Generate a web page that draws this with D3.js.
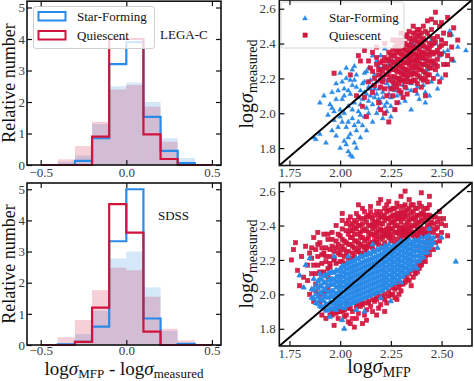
<!DOCTYPE html>
<html><head><meta charset="utf-8">
<script src="https://cdn.jsdelivr.net/npm/d3@7"></script>
<style>body{margin:0;background:#fff}svg{display:block}</style>
</head><body>
<script>
// ---------------- DATA ----------------
const binEdges = [-0.5,-0.4,-0.3,-0.2,-0.1,0,0.1,0.2,0.3,0.4,0.5];
const histXTicks = [-0.5, 0, 0.5];
const histYTicks = [0,1,2,3,4,5];
const legacSFStep = [0, 0, 0.13, 0.85, 3.2, 3.9, 1.53, 0.45, 0.06, 0];
const legacQStep  = [0, 0, 0, 0.9, 4.0, 4.0, 0.97, 0.19, 0, 0];
const legacSFFill = [0, 0.1, 0.3, 1.3, 2.5, 2.62, 2.0, 0.85, 0.22, 0.02];
const legacQFill  = [0.02, 0.18, 0.6, 1.37, 2.4, 2.54, 1.85, 0.74, 0.1, 0];
const sdssSFStep  = [0, 0.02, 0.1, 0.59, 3.33, 5.0, 0.85, 0, 0.04, 0];
const sdssQStep   = [0, 0, 0.1, 1.2, 4.52, 3.61, 0.43, 0, 0, 0];
const sdssSFFill  = [0, 0.05, 0.35, 1.1, 2.78, 3.0, 1.85, 0.45, 0.06, 0];
const sdssQFill   = [0.02, 0.25, 0.8, 1.76, 2.48, 2.4, 1.55, 0.52, 0.15, 0];

const sigXTicks = [1.75, 2.00, 2.25, 2.50];
const sigYTicks = [1.8, 2.0, 2.2, 2.4, 2.6];
const oneToOne = [1.7, 2.65];

const legacSF = [[1.88,1.85],[1.87,1.86],[1.90,1.88],[1.93,1.83],[1.96,1.90],[1.98,1.87],[2.00,1.80],[2.02,1.84],[2.03,1.82],[2.04,1.78],[2.05,1.76],[2.06,1.75],[2.03,1.92],[2.01,1.95],[2.05,1.88],[2.07,1.83],[2.08,1.90],[2.10,1.86],[2.09,1.95],[2.06,1.97],[2.00,1.98],[1.97,1.96],[2.11,1.93],[2.12,1.98],[2.13,1.90],[2.08,1.80],[1.99,1.92],[2.04,1.86],
[1.90,2.06],[1.92,2.10],[1.95,2.05],[1.96,2.12],[1.98,2.17],[2.00,2.02],[2.01,2.08],[2.02,2.14],[2.03,2.20],[2.04,2.04],[2.05,2.11],[2.06,2.16],[2.07,2.06],[2.08,2.22],[2.09,2.01],[2.10,2.13],[2.11,2.08],[2.12,2.18],[2.13,2.03],[2.14,2.26],[2.06,2.25],[2.00,2.23],[2.03,2.26],[1.97,2.01],[1.94,1.99],[2.15,2.10],[2.16,2.05],[2.15,2.19],[2.07,2.27],[2.05,2.19],[2.02,2.10],[1.99,2.13],
[2.17,2.14],[2.18,2.00],[2.19,2.08],[2.20,2.22],[2.21,2.12],[2.22,2.04],[2.23,2.17],[2.24,2.28],[2.25,2.09],[2.26,2.20],[2.27,2.13],[2.28,2.25],[2.29,2.06],[2.18,2.30],[2.20,2.33],[2.22,2.37],[2.16,2.33],[2.19,2.27],[2.21,1.97],[2.23,2.01],[2.25,1.98],[2.27,2.02],[2.24,2.15],[2.17,2.22],[2.14,2.15],[2.13,2.11],[2.26,2.30],[2.29,2.19],[2.30,2.11],[2.31,2.24],[2.31,2.16],[2.12,2.23],[2.18,2.18],[2.21,2.26],
[2.32,2.07],[2.33,2.20],[2.34,2.29],[2.35,2.13],[2.36,2.24],[2.37,2.34],[2.38,2.15],[2.38,2.27],[2.39,2.08],[2.40,2.20],[2.41,2.31],[2.42,2.12],[2.43,2.25],[2.44,2.35],[2.45,2.18],[2.46,2.28],[2.47,2.40],[2.48,2.22],[2.49,2.33],[2.50,2.42],[2.52,2.28],[2.53,2.36],[2.55,2.45],[2.56,2.30],[2.58,2.38],[2.62,2.36],[2.54,2.47],[2.36,2.40],[2.40,2.38],[2.44,2.10],[2.42,2.06],[2.35,2.02],[2.48,2.14],[2.50,2.20],[2.45,2.42],[2.51,2.35],[2.39,2.44],
[2.02,2.00],[2.04,2.13],[2.06,2.02],[2.08,2.15],[2.10,2.05],[2.12,2.12],[2.14,2.07],[2.16,2.16],[2.18,2.11],[2.20,2.06],[2.22,2.19],[2.24,2.11],[2.26,2.16],[2.28,2.10],[2.30,2.20],[2.07,2.19],[2.09,2.09],[2.11,2.17],[2.13,2.24],[2.15,2.14],[2.17,2.09],[2.19,2.14],[2.21,2.09],[2.23,2.06],[2.25,2.04],[2.01,2.18],[1.98,2.08],[1.96,2.03],[2.04,1.95],[2.07,1.93],[2.10,1.99],[2.14,2.00],[2.16,1.95],[2.19,2.03],[2.35,2.17],[2.38,2.11],[2.41,2.16],[2.33,2.14]];

const legacQ = [[1.97,2.23],[2.05,2.22],[2.09,2.33],[2.10,2.30],[2.12,2.09],[2.13,1.98],[2.14,2.18],[2.08,2.10],[2.11,2.04],[2.15,2.26],[2.14,2.30],[2.12,2.36],
[2.16,2.12],[2.17,2.20],[2.18,2.28],[2.19,2.06],[2.20,2.15],[2.21,2.24],[2.22,2.32],[2.23,2.10],[2.24,2.19],[2.25,2.27],[2.16,2.35],[2.18,2.38],[2.20,2.02],[2.22,2.00],[2.24,1.95],[2.21,2.18],[2.19,2.22],[2.17,2.16],[2.23,2.26],[2.25,2.14],[2.22,2.40],[2.24,2.35],[2.18,2.32],[2.20,2.29],[2.16,2.24],
[2.26,2.18],[2.26,2.25],[2.26,2.33],[2.27,2.21],[2.27,2.29],[2.27,2.38],[2.28,2.15],[2.28,2.24],[2.28,2.31],[2.29,2.20],[2.29,2.27],[2.29,2.35],[2.29,2.42],[2.30,2.12],[2.30,2.23],[2.30,2.30],[2.30,2.37],[2.31,2.19],[2.31,2.26],[2.31,2.33],[2.32,2.15],[2.32,2.22],[2.32,2.29],[2.32,2.36],[2.32,2.44],[2.33,2.25],[2.33,2.32],[2.33,2.39],[2.34,2.18],[2.34,2.28],[2.34,2.35],[2.35,2.22],[2.35,2.30],[2.35,2.41],[2.26,2.10],[2.28,2.06],[2.31,2.09],[2.33,2.11],[2.27,2.02],[2.30,2.46],[2.34,2.47],[2.28,2.40],[2.31,2.40],[2.26,2.42],[2.29,2.13],[2.33,2.20],[2.35,2.26],[2.34,2.33],
[2.36,2.19],[2.36,2.27],[2.36,2.34],[2.36,2.43],[2.37,2.23],[2.37,2.31],[2.37,2.38],[2.38,2.17],[2.38,2.26],[2.38,2.33],[2.38,2.41],[2.39,2.21],[2.39,2.29],[2.39,2.36],[2.39,2.45],[2.40,2.25],[2.40,2.32],[2.40,2.39],[2.41,2.19],[2.41,2.28],[2.41,2.35],[2.41,2.43],[2.42,2.23],[2.42,2.31],[2.42,2.38],[2.43,2.27],[2.43,2.34],[2.43,2.46],[2.44,2.22],[2.44,2.30],[2.44,2.40],[2.45,2.26],[2.45,2.35],[2.45,2.48],[2.37,2.13],[2.40,2.15],[2.42,2.10],[2.38,2.48],[2.41,2.50],[2.36,2.50],[2.40,2.20],[2.43,2.18],[2.44,2.33],[2.39,2.40],[2.37,2.28],[2.42,2.28],
[2.46,2.30],[2.46,2.40],[2.47,2.25],[2.47,2.35],[2.48,2.44],[2.48,2.31],[2.49,2.38],[2.49,2.50],[2.50,2.34],[2.50,2.42],[2.51,2.28],[2.52,2.40],[2.53,2.33],[2.54,2.45],[2.55,2.38],[2.47,2.58],[2.53,2.55],[2.50,2.52],[2.53,2.28],[2.56,2.49],[2.58,2.42],[2.52,2.22],[2.49,2.18],[2.46,2.20],[2.47,2.52],[2.45,2.54],[2.43,2.53],[2.51,2.46],[2.55,2.31],
[2.19,2.25],[2.20,2.19],[2.21,2.30],[2.22,2.14],[2.23,2.22],[2.24,2.31],[2.25,2.21],[2.25,2.33],[2.26,2.14],[2.26,2.29],[2.27,2.17],[2.27,2.25],[2.27,2.33],[2.28,2.20],[2.28,2.28],[2.28,2.35],[2.29,2.17],[2.29,2.24],[2.29,2.31],[2.30,2.19],[2.30,2.27],[2.30,2.34],[2.31,2.22],[2.31,2.29],[2.31,2.37],[2.32,2.18],[2.32,2.25],[2.32,2.33],[2.33,2.22],[2.33,2.29],[2.33,2.36],[2.34,2.24],[2.34,2.31],[2.34,2.39],[2.35,2.18],[2.35,2.34],[2.35,2.37],[2.36,2.23],[2.36,2.30],[2.36,2.38],[2.37,2.19],[2.37,2.26],[2.37,2.34],[2.37,2.42],[2.38,2.22],[2.38,2.30],[2.38,2.37],[2.38,2.44],[2.39,2.25],[2.39,2.32],[2.39,2.33],[2.40,2.28],[2.40,2.35],[2.40,2.42],[2.41,2.24],[2.41,2.32],[2.41,2.39],[2.42,2.20],[2.42,2.34],[2.42,2.42],[2.43,2.30],[2.43,2.37],[2.43,2.22],[2.44,2.26],[2.44,2.37],[2.44,2.44],[2.45,2.29],[2.45,2.39],[2.46,2.34],[2.46,2.43],[2.47,2.28],[2.47,2.41],[2.48,2.36],[2.48,2.27],[2.49,2.34],[2.50,2.39],[2.35,2.33],[2.36,2.46],[2.34,2.43],[2.32,2.40],[2.30,2.42],[2.28,2.37],[2.26,2.36],[2.33,2.45],[2.39,2.48],[2.42,2.47],[2.40,2.46],[2.37,2.46],[2.29,2.39],[2.27,2.42],[2.25,2.30],[2.24,2.24],[2.23,2.30],[2.22,2.27],[2.21,2.21],[2.20,2.25]];

const sdssQ = [[1.76,2.20],[1.77,2.26],[1.79,2.14],[1.80,2.05],[1.81,2.22],[1.82,2.10],[1.83,2.28],[1.84,2.17],[1.85,2.00],[1.85,2.24],[1.78,2.30],
[1.86,2.12],[1.86,2.21],[1.87,1.96],[1.88,2.26],[1.88,2.06],[1.89,2.17],[1.90,2.30],[1.90,2.00],[1.91,2.23],[1.91,2.12],[1.92,1.92],[1.92,2.35],[1.93,2.19],[1.93,2.27],[1.94,2.04],[1.94,2.32],[1.95,1.88],[1.95,2.22],[1.89,2.36],[1.87,2.33],[1.90,1.95],[1.93,1.86],
[1.96,2.28],[1.96,2.36],[1.97,2.20],[1.97,1.95],[1.98,2.31],[1.98,2.40],[1.99,2.24],[1.99,1.90],[2.00,2.34],[2.00,2.19],[2.01,2.28],[2.01,2.43],[2.02,2.22],[2.02,1.87],[2.03,2.37],[2.03,2.30],[2.04,2.25],[2.04,1.84],[2.05,2.40],[2.05,2.33],[1.97,1.82],[2.00,1.93],[2.03,1.95],[2.01,2.47],[2.05,2.45],
[2.06,2.28],[2.06,2.37],[2.07,2.43],[2.07,2.31],[2.08,2.25],[2.08,2.47],[2.09,2.35],[2.09,2.40],[2.10,2.29],[2.10,2.44],[2.11,2.33],[2.11,2.50],[2.12,2.38],[2.12,2.27],[2.13,2.42],[2.13,2.32],[2.14,2.46],[2.14,2.36],[2.15,2.30],[2.15,2.40],[2.06,1.90],[2.08,1.86],[2.10,1.93],[2.12,1.88],[2.14,1.95],[2.07,1.81],[2.11,1.83],[2.09,2.52],[2.15,2.51],
[2.16,2.35],[2.16,2.44],[2.17,2.39],[2.17,2.31],[2.18,2.48],[2.18,2.42],[2.19,2.34],[2.19,2.53],[2.20,2.38],[2.20,2.45],[2.21,2.33],[2.21,2.41],[2.22,2.50],[2.22,2.37],[2.23,2.44],[2.23,2.35],[2.24,2.40],[2.24,2.49],[2.25,2.38],[2.25,2.45],[2.17,1.96],[2.19,1.92],[2.21,1.98],[2.23,1.95],[2.25,2.00],[2.18,1.88],[2.22,1.90],[2.20,2.55],[2.24,2.54],
[2.26,2.42],[2.26,2.50],[2.27,2.36],[2.27,2.46],[2.28,2.40],[2.28,2.53],[2.29,2.44],[2.29,2.38],[2.30,2.48],[2.30,2.42],[2.31,2.36],[2.31,2.51],[2.32,2.45],[2.32,2.40],[2.33,2.49],[2.33,2.35],[2.34,2.43],[2.34,2.55],[2.35,2.39],[2.35,2.47],[2.27,2.03],[2.29,2.00],[2.31,2.06],[2.33,2.09],[2.35,2.05],[2.28,1.97],[2.30,2.57],[2.32,2.60],
[2.36,2.44],[2.36,2.36],[2.37,2.50],[2.37,2.40],[2.38,2.46],[2.38,2.33],[2.39,2.42],[2.39,2.53],[2.40,2.38],[2.40,2.47],[2.41,2.35],[2.41,2.43],[2.42,2.50],[2.42,2.30],[2.43,2.40],[2.43,2.46],[2.44,2.36],[2.44,2.52],[2.45,2.42],[2.45,2.32],[2.37,2.12],[2.39,2.15],[2.41,2.20],[2.43,2.25],[2.40,2.59],[2.44,2.57],[2.38,2.28],[2.42,2.26],
[2.46,2.45],[2.47,2.38],[2.48,2.42],[2.49,2.48],[2.50,2.36],[2.51,2.44],[2.52,2.40],[2.47,2.30],[2.49,2.31],[2.46,2.26],[2.53,2.34],
[2.02,2.26],[2.04,2.35],[2.06,2.33],[2.08,2.38],[2.10,2.36],[2.12,2.44],[2.14,2.40],[2.16,2.38],[2.18,2.36],[2.20,2.41],[2.22,2.43],[2.24,2.37],[2.26,2.46],[2.28,2.44],[2.30,2.39],[2.32,2.48],[2.34,2.40],[2.36,2.48],[2.38,2.38],[2.40,2.43],[2.03,2.41],[2.05,2.29],[2.07,2.39],[2.09,2.30],[2.11,2.41],[2.13,2.37],[2.15,2.45],[2.17,2.42],[2.19,2.46],[2.21,2.37],[2.23,2.48],[2.25,2.42],[2.27,2.40],[2.29,2.47],[2.31,2.44],[2.33,2.42],[2.35,2.44],[2.37,2.45],[2.39,2.37],[1.98,2.27],[1.95,2.26],[1.92,2.24],[1.99,2.35],[2.01,2.32],[1.96,2.32],[1.94,2.15],[1.91,2.18],[1.89,2.22],[1.88,2.12],[2.41,2.46],[2.43,2.43],[2.45,2.38],[2.44,2.46],
[1.97,2.25],[1.99,2.29],[2.00,2.26],[2.01,2.38],[2.02,2.31],[2.03,2.24],[2.04,2.29],[2.04,2.43],[2.05,2.37],[2.06,2.24],[2.06,2.41],[2.07,2.27],[2.07,2.35],[2.08,2.31],[2.08,2.42],[2.09,2.27],[2.09,2.45],[2.10,2.33],[2.10,2.40],[2.11,2.28],[2.11,2.37],[2.12,2.31],[2.12,2.48],[2.13,2.28],[2.13,2.45],[2.14,2.33],[2.14,2.29],[2.15,2.35],[2.15,2.48],[2.16,2.30],[2.16,2.41],[2.17,2.34],[2.17,2.46],[2.18,2.32],[2.18,2.40],[2.19,2.37],[2.19,2.43],[2.20,2.32],[2.20,2.48],[2.21,2.35],[2.21,2.45],[2.22,2.34],[2.22,2.46],[2.23,2.38],[2.23,2.52],[2.24,2.34],[2.24,2.44],[2.25,2.35],[2.25,2.49],[2.26,2.38],[2.26,2.33],[2.27,2.43],[2.27,2.50],[2.28,2.36],[2.28,2.47],[2.29,2.35],[2.29,2.51],[2.30,2.36],[2.30,2.45],[2.31,2.38],[2.31,2.47],[2.32,2.37],[2.32,2.52],[2.33,2.38],[2.33,2.46],[2.34,2.37],[2.34,2.50],[2.35,2.36],[2.35,2.52],[2.36,2.40],[2.36,2.52],[2.37,2.36],[2.37,2.43],[2.38,2.41],[2.38,2.50],[2.39,2.35],[2.39,2.46],[2.40,2.34],[2.40,2.51],[2.41,2.38],[2.41,2.48],[2.42,2.36],[2.42,2.45],[2.43,2.33],[2.43,2.50],[2.44,2.40],[2.44,2.30],[2.45,2.45],[2.46,2.36],[2.46,2.41],[2.47,2.45],[2.48,2.34],[2.48,2.39],[2.50,2.41],[2.49,2.44],
[1.84,2.08],[1.86,2.27],[1.87,2.17],[1.88,2.02],[1.89,2.29],[1.90,2.13],[1.91,2.27],[1.92,2.01],[1.93,2.22],[1.94,2.35],[1.95,2.18],[1.96,1.90],[1.98,1.92],[1.99,1.86],[2.01,1.90],[2.03,1.88],[2.05,1.92],[2.06,1.86],[2.08,1.93],[2.09,1.89],[2.11,1.94],[2.13,1.91],[2.15,1.93],[2.16,1.90],[2.18,1.97],[2.20,1.94],[2.22,1.97],[2.24,1.99],[2.26,2.00],[2.27,1.98],[2.29,2.04],[2.30,2.02],[2.32,2.07],[2.34,2.08],[2.36,2.10],[2.38,2.13],[2.40,2.17],[2.42,2.19],[2.44,2.23],[2.13,1.85],[2.05,1.83],[1.91,1.88],
[1.92,2.13],[1.95,2.16],[1.98,2.18],[2.01,2.19],[2.04,2.21],[2.07,2.22],[2.10,2.24],[2.13,2.26],[2.16,2.27],[2.19,2.29],[2.22,2.30],[2.25,2.31],[2.28,2.32],[2.31,2.34],[2.34,2.35],[2.37,2.34],[2.40,2.36],[2.43,2.37],[1.94,2.10],[1.97,2.21],[2.00,2.23],[2.03,2.18],[2.06,2.21],[2.09,2.25],[2.12,2.24],[2.15,2.28],[2.18,2.30],[2.21,2.28],[2.24,2.33],[2.27,2.30],[2.30,2.33],[2.33,2.33],[2.36,2.34],[2.39,2.34],[2.42,2.35],
[1.96,1.88],[2.00,1.90],[2.04,1.92],[2.08,1.94],[2.12,1.95],[2.16,1.97],[2.20,1.99],[2.24,2.02],[2.28,2.06],[2.32,2.10],[2.36,2.14],[2.40,2.18],[2.44,2.26],[1.98,1.89],[2.02,1.91],[2.10,1.95],[2.14,1.96],[2.18,1.99],[2.22,2.00],[2.26,2.04],[2.30,2.06],[2.34,2.12],[2.38,2.17],[2.42,2.22]];

// SDSS star-forming: dense core read column by column (x, list of y), plus outliers
const sdssSFCols = [
[1.86,[1.98,2.03]],[1.88,[1.95,2.00,2.05]],[1.90,[1.93,1.97,2.01,2.05,2.09]],
[1.92,[1.92,1.96,1.99,2.03,2.07,2.11]],[1.94,[1.91,1.94,1.98,2.01,2.05,2.08,2.12]],
[1.96,[1.92,1.95,1.99,2.02,2.06,2.09,2.13]],[1.98,[1.91,1.94,1.97,2.00,2.04,2.07,2.10,2.14]],
[2.00,[1.93,1.96,1.99,2.02,2.05,2.08,2.11,2.15]],[2.02,[1.92,1.95,1.98,2.01,2.04,2.07,2.10,2.13,2.16]],
[2.04,[1.94,1.97,2.00,2.03,2.06,2.09,2.12,2.15,2.18]],[2.06,[1.95,1.98,2.01,2.04,2.07,2.10,2.13,2.16,2.19]],
[2.08,[1.96,1.99,2.02,2.05,2.08,2.11,2.14,2.17,2.21]],[2.10,[1.97,2.00,2.03,2.06,2.09,2.12,2.15,2.18,2.22]],
[2.12,[1.98,2.01,2.04,2.07,2.10,2.13,2.16,2.19,2.23]],[2.14,[1.99,2.02,2.05,2.08,2.11,2.14,2.17,2.20,2.24]],
[2.16,[2.00,2.03,2.06,2.09,2.12,2.15,2.18,2.21,2.25]],[2.18,[2.01,2.04,2.07,2.10,2.13,2.16,2.19,2.22,2.26]],
[2.20,[2.02,2.05,2.08,2.11,2.14,2.17,2.20,2.23,2.27]],[2.22,[2.04,2.07,2.10,2.13,2.16,2.19,2.22,2.25,2.28]],
[2.24,[2.05,2.08,2.11,2.14,2.17,2.20,2.23,2.26,2.29]],[2.26,[2.07,2.10,2.13,2.16,2.19,2.22,2.25,2.28]],
[2.28,[2.08,2.11,2.14,2.17,2.20,2.23,2.26,2.29]],[2.30,[2.10,2.13,2.16,2.19,2.22,2.25,2.28,2.31]],
[2.32,[2.12,2.15,2.18,2.21,2.24,2.27,2.30]],[2.34,[2.14,2.17,2.20,2.23,2.26,2.29,2.32]],
[2.36,[2.16,2.19,2.22,2.25,2.28,2.31]],[2.38,[2.19,2.22,2.25,2.28,2.31]],
[2.40,[2.21,2.24,2.27,2.30,2.33]],[2.42,[2.24,2.27,2.30,2.33]],[2.44,[2.27,2.30,2.34]],[2.46,[2.30,2.33]],
[1.87,[1.975,2.025]],[1.89,[1.945,1.985,2.035,2.075]],[1.91,[1.925,1.965,2.005,2.045,2.085]],
[1.93,[1.905,1.945,1.985,2.025,2.065,2.105]],[1.95,[1.915,1.955,1.985,2.015,2.055,2.085,2.125]],
[1.97,[1.915,1.955,1.985,2.015,2.055,2.085,2.125]],[1.99,[1.925,1.955,1.985,2.015,2.045,2.075,2.105,2.135]],
[2.01,[1.925,1.955,1.985,2.015,2.045,2.075,2.105,2.135,2.165]],[2.03,[1.935,1.965,1.995,2.025,2.055,2.085,2.115,2.145,2.175]],
[2.05,[1.945,1.975,2.005,2.035,2.065,2.095,2.125,2.155,2.185]],[2.07,[1.955,1.985,2.015,2.045,2.075,2.105,2.135,2.165,2.195]],
[2.09,[1.965,1.995,2.025,2.055,2.085,2.115,2.145,2.175,2.205]],[2.11,[1.975,2.005,2.035,2.065,2.095,2.125,2.155,2.185,2.215]],
[2.13,[1.985,2.015,2.045,2.075,2.105,2.135,2.165,2.195,2.225]],[2.15,[1.995,2.025,2.055,2.085,2.115,2.145,2.175,2.205,2.235]],
[2.17,[2.005,2.035,2.065,2.095,2.125,2.155,2.185,2.215,2.245]],[2.19,[2.015,2.045,2.075,2.105,2.135,2.165,2.195,2.225,2.255]],
[2.21,[2.025,2.055,2.085,2.115,2.145,2.175,2.205,2.235,2.265]],[2.23,[2.035,2.065,2.095,2.125,2.155,2.185,2.215,2.245,2.275]],
[2.25,[2.055,2.085,2.115,2.145,2.175,2.205,2.235,2.265]],[2.27,[2.065,2.095,2.125,2.155,2.185,2.215,2.245,2.275]],
[2.29,[2.085,2.115,2.145,2.175,2.205,2.235,2.265,2.295]],[2.31,[2.105,2.135,2.165,2.195,2.225,2.255,2.285]],
[2.33,[2.125,2.155,2.185,2.215,2.245,2.275,2.305]],[2.35,[2.145,2.175,2.205,2.235,2.265,2.295]],
[2.37,[2.165,2.195,2.225,2.255,2.285,2.315]],[2.39,[2.195,2.225,2.255,2.285,2.315]],
[2.41,[2.215,2.245,2.275,2.305]],[2.43,[2.245,2.275,2.305,2.335]],[2.45,[2.285,2.315]]];
const sdssSFOutliers = [[2.57,2.19],[1.83,2.17],[1.85,2.21],[1.82,2.04],[2.01,1.85],[2.12,1.90],[2.02,1.80],[1.80,2.11],[2.25,1.96],[1.97,2.22],[2.50,2.33],[2.48,2.27],[1.95,1.87],[2.08,1.91],[1.87,2.09],[2.04,2.22],[2.16,2.29],[2.30,2.07],[2.38,2.15],[2.20,1.98],[1.90,2.12],[2.44,2.38]];

// ---------------- STYLE ----------------
const BLUE = "#2a8ae8", RED = "#d0143c";
const FONT = "'Liberation Serif','DejaVu Serif',serif";
const TICKCOL = "#3a3a3a";

const svg = d3.select("body").append("svg").attr("width",474).attr("height",381)
  .style("font-family", FONT);
const defs = svg.append("defs");

function frameAndAxes(x, y, xt, yt, xfmt, yfmt, opts) {
  const [x0,x1] = x.range(), [y0,y1] = y.range();
  const g = svg.append("g");
  g.append("g").attr("transform",`translate(0,${y0})`)
    .call(d3.axisBottom(x).tickValues(xt).tickFormat(xfmt).tickSize(-5).tickPadding(opts.xpad));
  g.append("g").attr("transform",`translate(0,${y1})`)
    .call(d3.axisTop(x).tickValues(xt).tickFormat("").tickSize(-5));
  g.append("g").attr("transform",`translate(${x0},0)`)
    .call(d3.axisLeft(y).tickValues(yt).tickFormat(yfmt).tickSize(-5).tickPadding(opts.ypad));
  g.append("g").attr("transform",`translate(${x1},0)`)
    .call(d3.axisRight(y).tickValues(yt).tickFormat("").tickSize(-5));
  g.selectAll(".domain").remove();
  g.selectAll(".tick line").attr("stroke","#111").attr("stroke-width",1.2);
  g.selectAll(".tick text").attr("font-family",FONT).attr("font-size",13).attr("fill",TICKCOL);
  g.append("rect").attr("x",x0).attr("y",y1).attr("width",x1-x0).attr("height",y0-y1)
    .attr("fill","none").attr("stroke","#111").attr("stroke-width",1.6);
  return g;
}

// ---------------- HISTOGRAMS ----------------
function histPanel(y0px, y1px, sfStep, qStep, sfFill, qFill, label, legend) {
  const x = d3.scaleLinear().domain([-0.58,0.553]).range([27,221]);
  const y = d3.scaleLinear().domain([0,5.2]).range([y0px,y1px]);
  const g = svg.append("g");
  const bins = d3.range(binEdges.length-1);
  g.selectAll(null).data(bins).join("rect")
    .attr("x",i=>x(binEdges[i])).attr("width",i=>x(binEdges[i+1])-x(binEdges[i]))
    .attr("y",i=>y(sfFill[i])).attr("height",i=>y(0)-y(sfFill[i]))
    .attr("fill",BLUE).attr("fill-opacity",0.2);
  g.selectAll(null).data(bins).join("rect")
    .attr("x",i=>x(binEdges[i])).attr("width",i=>x(binEdges[i+1])-x(binEdges[i]))
    .attr("y",i=>y(qFill[i])).attr("height",i=>y(0)-y(qFill[i]))
    .attr("fill",RED).attr("fill-opacity",0.2);
  function stepPts(vals){
    const pts=[[binEdges[0],0]];
    vals.forEach((v,i)=>{pts.push([binEdges[i],v]);pts.push([binEdges[i+1],v]);});
    pts.push([binEdges[binEdges.length-1],0]);
    return pts;
  }
  const line = d3.line().x(d=>x(d[0])).y(d=>y(d[1]));
  g.append("path").attr("d",line(stepPts(sfStep))).attr("fill","none").attr("stroke",BLUE).attr("stroke-width",2.2);
  g.append("path").attr("d",line(stepPts(qStep))).attr("fill","none").attr("stroke",RED).attr("stroke-width",2.2);

  if (legend) {
    const lg = svg.append("g");
    lg.append("rect").attr("x",33.5).attr("y",6.5).attr("width",121).attr("height",42).attr("rx",2.5)
      .attr("fill","#fff").attr("fill-opacity",0.8).attr("stroke","#d0d0d0").attr("stroke-width",1);
    lg.append("rect").attr("x",38.5).attr("y",12).attr("width",27).attr("height",8.5).attr("fill","none").attr("stroke",BLUE).attr("stroke-width",2);
    lg.append("rect").attr("x",38.5).attr("y",31).attr("width",27).attr("height",8.5).attr("fill","none").attr("stroke",RED).attr("stroke-width",2);
    lg.append("text").attr("x",77).attr("y",20.5).attr("font-size",13).attr("fill","#111").text("Star-Forming");
    lg.append("text").attr("x",77).attr("y",39.5).attr("font-size",13).attr("fill","#111").text("Quiescent");
  }
  svg.append("text").attr("x",label.x).attr("y",label.y).attr("font-size",13).attr("fill","#111").text(label.t);
  frameAndAxes(x, y, histXTicks, histYTicks, d3.format(".1f"), d3.format("d"),
    {xpad: label.xpad, ypad:2});
}
histPanel(165, 1.2, legacSFStep, legacQStep, legacSFFill, legacQFill, {x:160,y:39,t:"LEGA-C",xpad:3}, true);
histPanel(345, 183, sdssSFStep, sdssQStep, sdssSFFill, sdssQFill, {x:158,y:220,t:"SDSS",xpad:1}, false);

// ---------------- SCATTER ----------------
function scatterPanel(y0px, y1px, sf, q, redFirst, legend, id, triStroke) {
  const x = d3.scaleLinear().domain([1.7,2.65]).range([279.3,472]);
  const y = d3.scaleLinear().domain([1.7,2.65]).range([y0px,y1px]);
  defs.append("clipPath").attr("id",id).append("rect")
    .attr("x",279.3).attr("y",y1px).attr("width",472-279.3).attr("height",y0px-y1px);
  const g = svg.append("g").attr("clip-path",`url(#${id})`);
  const tri = d3.symbol().type(d3.symbolTriangle).size(11);
  const S = 4.2;
  function drawSF(){
    g.append("g").selectAll("path").data(sf).join("path")
      .attr("d",tri).attr("transform",d=>`translate(${x(d[0])},${y(d[1])})`)
      .attr("fill",BLUE).attr("stroke",BLUE).attr("stroke-width",triStroke).attr("stroke-linejoin","round");
  }
  function drawQ(){
    g.append("g").selectAll("rect").data(q).join("rect")
      .attr("x",d=>x(d[0])-S/2).attr("y",d=>y(d[1])-S/2).attr("width",S).attr("height",S)
      .attr("fill",RED).attr("stroke",RED).attr("stroke-width",0.6).attr("fill-opacity",0.92);
  }
  if (redFirst){drawQ();drawSF();} else {drawSF();drawQ();}
  g.append("line").attr("x1",x(oneToOne[0])).attr("y1",y(oneToOne[0]))
    .attr("x2",x(oneToOne[1])).attr("y2",y(oneToOne[1])).attr("stroke","#000").attr("stroke-width",2);
  if (legend) {
    const lg = svg.append("g");
    lg.append("rect").attr("x",281).attr("y",2).attr("width",123).attr("height",46).attr("rx",2.5)
      .attr("fill","#fff").attr("fill-opacity",0.8).attr("stroke","#d6d6d6").attr("stroke-width",1);
    lg.append("path").attr("d",tri).attr("transform","translate(305,18.5)").attr("fill",BLUE).attr("stroke",BLUE).attr("stroke-width",0.4);
    lg.append("rect").attr("x",303).attr("y",33).attr("width",S).attr("height",S).attr("fill",RED).attr("stroke",RED).attr("stroke-width",0.6);
    lg.append("text").attr("x",329).attr("y",22).attr("font-size",13).attr("fill","#111").text("Star-Forming");
    lg.append("text").attr("x",329).attr("y",39.5).attr("font-size",13).attr("fill","#111").text("Quiescent");
  }
  frameAndAxes(x, y, sigXTicks, sigYTicks, d3.format(".2f"), d3.format(".1f"),
    {xpad:2.5, ypad:3.5});
}
const sdssSF = sdssSFCols.flatMap(([xv,ys])=>ys.map(yv=>[xv,yv])).concat(sdssSFOutliers);
scatterPanel(165.5, 0, legacSF, legacQ, false, true, "clipA", 0.4);
scatterPanel(346, 182.5, sdssSF, sdssQ, true, false, "clipB", 1.0);

// ---------------- AXIS TITLES ----------------
function relLabel(cy){
  svg.append("text").attr("transform",`translate(15,${cy}) rotate(-90)`).attr("text-anchor","middle")
    .attr("font-size",18).attr("fill","#111").text("Relative number");
}
relLabel(83); relLabel(264);

function sigLabel(cy){
  const t = svg.append("text").attr("transform",`translate(253,${cy}) rotate(-90)`).attr("text-anchor","middle")
    .attr("font-size",20).attr("fill","#111");
  t.append("tspan").text("log");
  t.append("tspan").attr("font-style","italic").text("σ");
  t.append("tspan").attr("font-size",14).attr("dy",4).text("measured");
}
sigLabel(84); sigLabel(264);

(function(){
  const t = svg.append("text").attr("x",124).attr("y",374.5).attr("text-anchor","middle")
    .attr("font-size",19).attr("fill","#111");
  t.append("tspan").text("log");
  t.append("tspan").attr("font-style","italic").text("σ");
  t.append("tspan").attr("font-size",13).attr("dy",3).text("MFP");
  t.append("tspan").attr("dy",-3).text(" - log");
  t.append("tspan").attr("font-style","italic").text("σ");
  t.append("tspan").attr("font-size",13).attr("dy",3).text("measured");
  const u = svg.append("text").attr("x",379).attr("y",373).attr("text-anchor","middle")
    .attr("font-size",20).attr("fill","#111");
  u.append("tspan").text("log");
  u.append("tspan").attr("font-style","italic").text("σ");
  u.append("tspan").attr("font-size",14).attr("dy",3.5).text("MFP");
})();
</script>
</body></html>
